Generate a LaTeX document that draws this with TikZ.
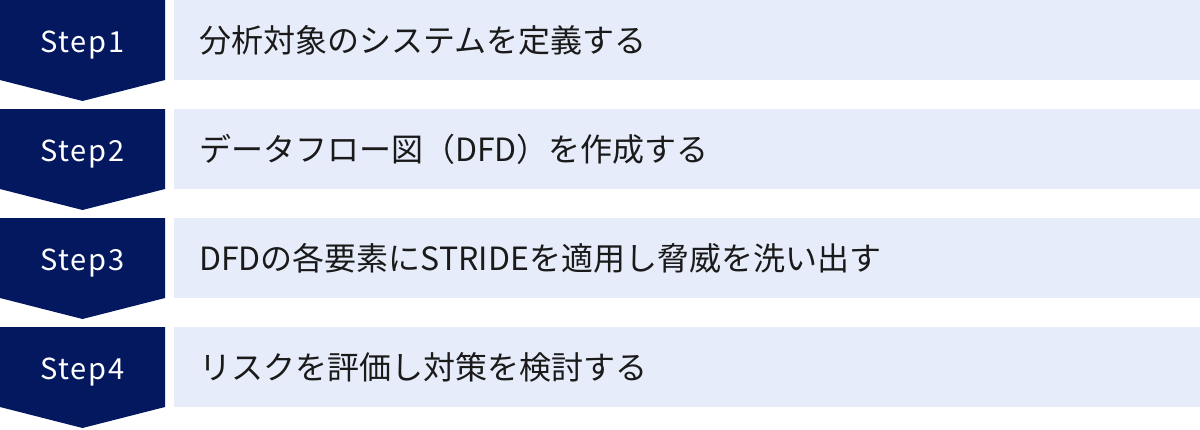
\documentclass[tikz,border=0pt]{standalone}
\usepackage{fontspec}
\setmainfont{Noto Sans CJK JP}
\newfontfamily\jpfont{Noto Sans CJK JP}
\newfontfamily\stepfont[LetterSpace=6]{Noto Sans CJK JP}
\definecolor{navy}{RGB}{4,24,96}
\definecolor{lightbox}{RGB}{230,236,250}
\definecolor{txt}{RGB}{26,26,26}
\tikzset{
  chev/.style={fill=navy, draw=none},
  band/.style={fill=lightbox, draw=none},
  steplabel/.style={text=white, font=\stepfont\fontsize{29}{32}\selectfont, inner sep=0pt, anchor=base},
  desc/.style={text=txt, font=\jpfont\fontsize{32}{36}\selectfont, inner sep=0pt, anchor=base west},
}
\begin{document}
\begin{tikzpicture}[x=1pt,y=-1pt]
\useasboundingbox (0,0) rectangle (1200,429);
\foreach \i/\t/\d in {0/Step1/分析対象のシステムを定義する,
                      1/Step2/データフロー図（DFD）を作成する,
                      2/Step3/DFDの各要素にSTRIDEを適用し脅威を洗い出す,
                      3/Step4/リスクを評価し対策を検討する}{
  \pgfmathsetmacro{\top}{109*\i}
  \fill[chev] (0,\top) -- (165,\top) -- (165,\top+80) -- (82.5,\top+101) -- (0,\top+80) -- cycle;
  \fill[band] (174,\top) rectangle (1200,\top+80);
  \node[steplabel] (s\i) at (82.5,\top+52) {\t};
  \node[desc] (d\i) at (199,\top+52) {\d};
}
\end{tikzpicture}
\end{document}
